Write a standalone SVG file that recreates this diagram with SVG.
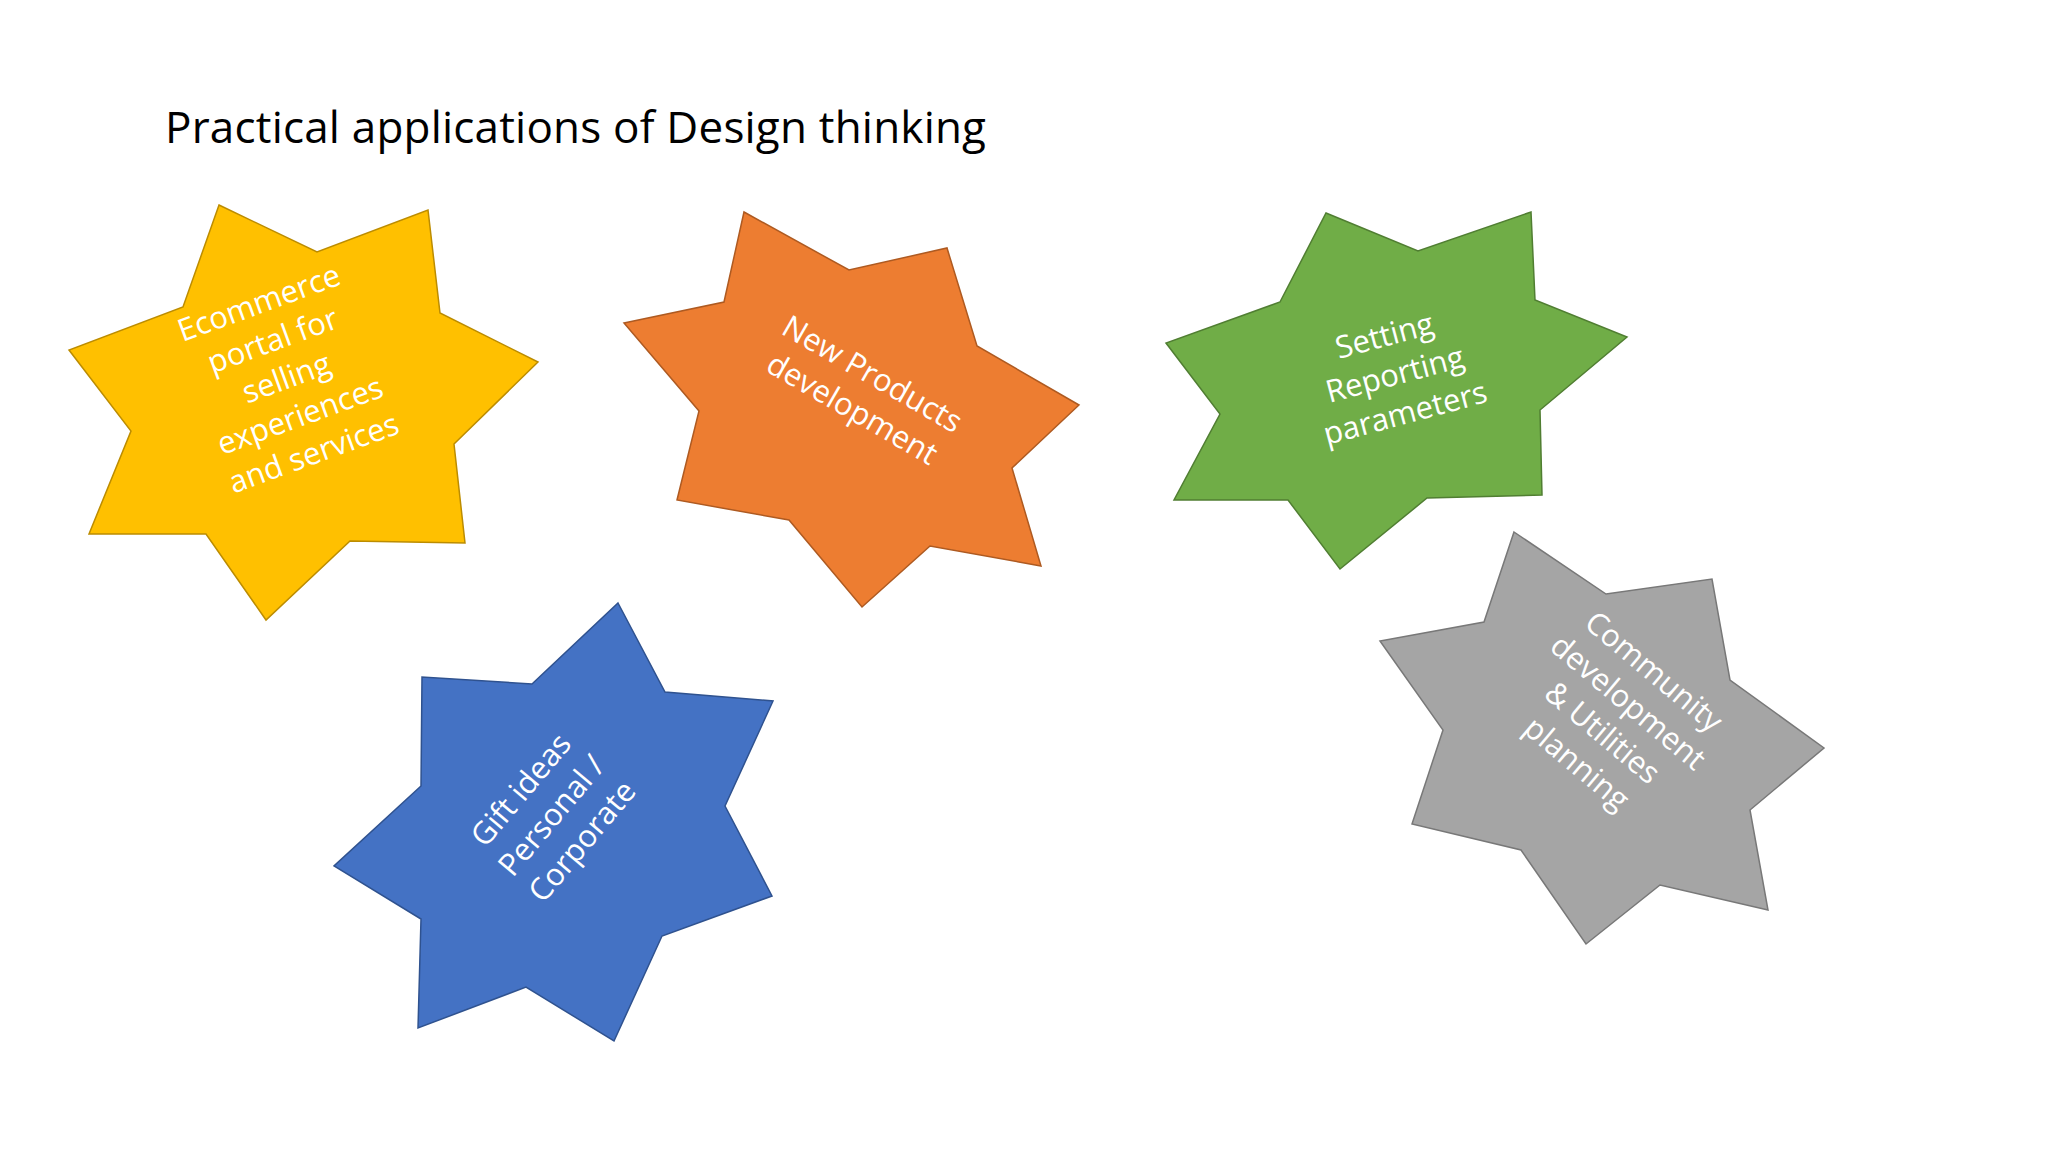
<svg xmlns="http://www.w3.org/2000/svg" width="2048" height="1152" viewBox="0 0 2048 1152">
<style>
.t{font-family:"Open Sans","Liberation Sans",sans-serif;font-size:31px;fill:#fff;text-anchor:middle}
.s{stroke-width:1.5}
</style>
<rect width="2048" height="1152" fill="#fff"/>
<text x="165" y="143" font-family="Open Sans,Liberation Sans,sans-serif" font-size="44" fill="#000" textLength="821">Practical applications of Design thinking</text>
<g id="yellow">
<polygon class="s" fill="#FFC000" stroke="#BC8C00" points="219,205 317,252 428,210 440,313 538,362 454,444 465,543 350,541 266,620 206,534 89,534 131,431 69,350 183,307"/>
<text class="t" transform="translate(290,388) rotate(-20)"><tspan x="0" y="-80">Ecommerce</tspan><tspan x="0" y="-40">portal for</tspan><tspan x="0" y="0">selling</tspan><tspan x="0" y="40">experiences</tspan><tspan x="0" y="80">and services</tspan></text>
</g>
<g id="orange">
<polygon class="s" fill="#ED7D31" stroke="#AE5A21" points="744,212 849,270 947,248 977,346 1079,405 1012,468 1041,566 930,546 862,607 789,520 677,500 699,411 624,323 724,302"/>
<text class="t" transform="translate(862,392) rotate(30)"><tspan x="0" y="-10">New Products</tspan><tspan x="0" y="30">development</tspan></text>
</g>
<g id="green">
<polygon class="s" fill="#70AD47" stroke="#507E32" points="1326,213 1418,251 1531,212 1535,300 1627,337 1540,410 1542,495 1427,498 1340,569 1288,500 1174,500 1220,414 1166,343 1280,302"/>
<text class="t" transform="translate(1395,375) rotate(-15)"><tspan x="0" y="-30">Setting</tspan><tspan x="0" y="10">Reporting</tspan><tspan x="0" y="50">parameters</tspan></text>
</g>
<g id="blue">
<polygon class="s" fill="#4472C4" stroke="#2F528F" points="618,603 665,692 773,701 725,806 772,896 662,936 614,1041 526,987 418,1028 421,919 334,866 421,786 422,677 532,684"/>
<text class="t" transform="translate(552,816) rotate(-50)"><tspan x="0" y="-30">Gift ideas</tspan><tspan x="0" y="10">Personal /</tspan><tspan x="0" y="50">Corporate</tspan></text>
</g>
<g id="gray">
<polygon class="s" fill="#A5A5A5" stroke="#787878" points="1514,532 1606,594 1712,579 1730,680 1824,748 1750,810 1768,910 1660,885 1586,944 1521,850 1412,824 1443,730 1380,641 1484,622"/>
<text class="t" transform="translate(1615,718) rotate(40)"><tspan x="0" y="-50">Community</tspan><tspan x="0" y="-10">development</tspan><tspan x="0" y="30">&amp; Utilities</tspan><tspan x="0" y="70">planning</tspan></text>
</g>
<g id="connectors"/>
</svg>
